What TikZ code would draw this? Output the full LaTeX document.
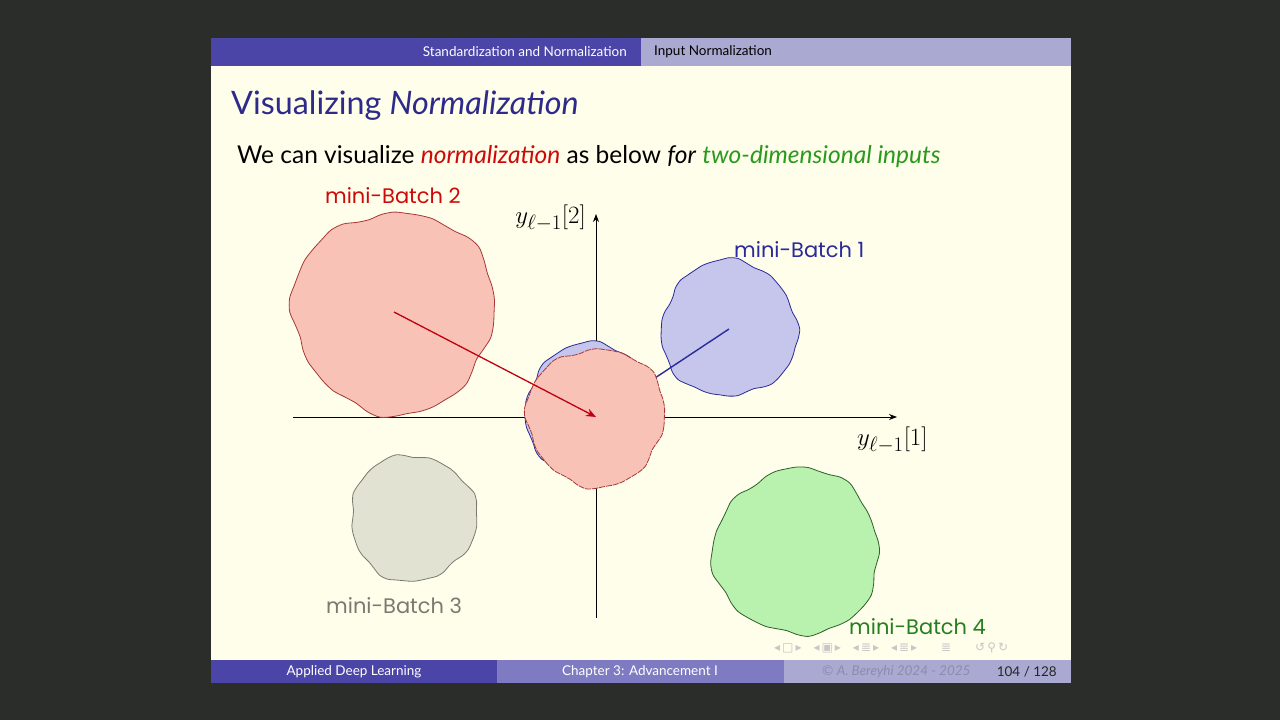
\documentclass[tikz,border=0pt]{standalone}
\usepackage{fontspec}
\setmainfont{Lato}
\newfontfamily\handfont{Poppins}
\newfontfamily\navfont{DejaVu Sans}
\usetikzlibrary{arrows.meta}
\definecolor{darkbg}{HTML}{2B2D2A}
\definecolor{slidebg}{HTML}{FEFEEA}
\definecolor{barA}{HTML}{4B45A8}
\definecolor{barB}{HTML}{7E7BC2}
\definecolor{barC}{HTML}{A9A9D2}
\definecolor{titleblue}{HTML}{2E2A8C}
\definecolor{redtxt}{HTML}{CC0A0A}
\definecolor{greentxt}{HTML}{2A9A1E}
\definecolor{redfill}{HTML}{F8C2B6}
\definecolor{redline}{HTML}{A83838}
\definecolor{bluefill}{HTML}{C6C6EC}
\definecolor{blueline}{HTML}{2A2A9A}
\definecolor{grayfill}{HTML}{E2E2D2}
\definecolor{grayline}{HTML}{7A7A72}
\definecolor{greenfill}{HTML}{B8F2AE}
\definecolor{greenline}{HTML}{2F5F2A}
\definecolor{arrowred}{HTML}{C00010}
\definecolor{copygray}{HTML}{8C8CAE}
\newcommand\myblob[5]{plot[smooth cycle,samples=48,domain=0:352.5,variable=\t]({#1+#3*(1+0.03*sin(3*\t+#4)+0.018*sin(8*\t+#5)+0.012*sin(13*\t+#4+#5))*cos(\t)},{#2+#3*(1+0.03*sin(3*\t+#4)+0.018*sin(8*\t+#5)+0.012*sin(13*\t+#4+#5))*sin(\t)})}
\tikzset{
  hdr/.style={font=\fontsize{13.5}{15}\selectfont, inner sep=0pt},
  blobpath/.style={line width=0.8pt},
  hand/.style={font=\handfont\fontsize{21}{24}\selectfont, inner sep=0pt},
  axislabel/.style={font=\fontsize{32}{35}\selectfont, inner sep=0pt},
  axis/.style={line width=0.8pt, -{Stealth[length=8pt,width=6pt]}},
}
\begin{document}
\begin{tikzpicture}[x=1pt,y=-1pt]
\useasboundingbox (0,0) rectangle (1280,720);
\fill[darkbg] (0,0) rectangle (1280,720);
% slide
\fill[slidebg] (211,38) rectangle (1071,683);
% header
\fill[barA] (211,38) rectangle (641,66);
\fill[barC] (641,38) rectangle (1071,66);
\node[hdr, text=white, anchor=east] (h1) at (627,52) {Standardization and Normalization};
\node[hdr, text=black, anchor=west] (h2) at (654,52) {Input Normalization};
% title
\node[anchor=base west, inner sep=0pt, text=titleblue, font=\fontsize{32.3}{36}\selectfont] (title) at (231,114) {Visualizing \textit{Normalization}};
\node[anchor=base west, inner sep=0pt, font=\fontsize{24.5}{28}\selectfont] (body) at (237,163) {We can visualize \textcolor{redtxt}{\textit{normalization}} as below \textit{for} \textcolor{greentxt}{\textit{two-dimensional inputs}}};
% footer
\fill[barA] (211,660) rectangle (497,683);
\fill[barB] (497,660) rectangle (784,683);
\fill[barC] (784,660) rectangle (1071,683);
\node[hdr, text=white] (f1) at (354,672) {Applied Deep Learning};
\node[hdr, text=white] (f2) at (640,672) {Chapter 3: Advancement I};
\node[hdr, text=copygray, anchor=west] (f3) at (822,672) {\textcopyright\ \textit{A. Bereyhi 2024 - 2025}};
\node[hdr, text=black!85, anchor=east] (f4) at (1057,672) {104 / 128};
% nav symbols
\node[inner sep=0pt, text=black!22, font=\navfont\fontsize{12}{13}\selectfont, anchor=west] (nav) at (774,648) {◂\,□\,▸\quad◂\,▣\,▸\quad◂\,≣\,▸\quad◂\,≣\,▸\qquad≣\qquad↺\,⚲\,↻};
% axes
\coordinate (o) at (596,417);
\coordinate (xl) at (293,417);
\coordinate (xr) at (897,417);
\coordinate (yb) at (596,618);
\coordinate (yt) at (596,214);
\draw[axis] (xl) -- (xr);
\draw[axis] (yb) -- (yt);
\node[axislabel, anchor=east] (ylab) at (586,218) {$y_{\ell-1}[2]$};
\node[axislabel, anchor=west] (xlab) at (857,440) {$y_{\ell-1}[1]$};
% mini-batches
\coordinate (c1) at (729,329);
\coordinate (c2) at (394,312);
\coordinate (c3) at (413,518);
\coordinate (c4) at (797,552);
\fill[bluefill] \myblob{729}{329}{68}{20}{80};
\draw[blueline, blobpath] \myblob{729}{329}{68}{20}{80};
\fill[redfill] \myblob{394}{312}{101}{200}{40};
\draw[redline, blobpath] \myblob{394}{312}{101}{200}{40};
\fill[grayfill] \myblob{413}{518}{63}{110}{250};
\draw[grayline, blobpath] \myblob{413}{518}{63}{110}{250};
\fill[greenfill] \myblob{797}{552}{83}{300}{150};
\draw[greenline, blobpath] \myblob{797}{552}{83}{300}{150};
% normalized blobs
\fill[bluefill] \myblob{591}{410}{66}{20}{80};
\draw[blueline, blobpath] \myblob{591}{410}{66}{20}{80};
\draw[blueline, line width=1.4pt] (c1) -- (o);
\fill[redfill] \myblob{596}{417}{69}{200}{40};
\draw[redline, blobpath, dashed, dash pattern=on 6pt off 1pt] \myblob{596}{417}{69}{200}{40};
\draw[arrowred, line width=1.3pt, -{Stealth[length=10pt,width=8pt]}] (c2) -- (o);
% labels
\node[hand, text=redtxt, anchor=base west] (l2) at (325,203) {mini-Batch 2};
\node[hand, text=blueline, anchor=base west] (l1) at (734,257) {mini-Batch 1};
\node[hand, text=grayline, anchor=base west] (l3) at (326,613) {mini-Batch 3};
\node[hand, text=greenline!80!green, anchor=base west] (l4) at (849,634) {mini-Batch 4};
\end{tikzpicture}
\end{document}
